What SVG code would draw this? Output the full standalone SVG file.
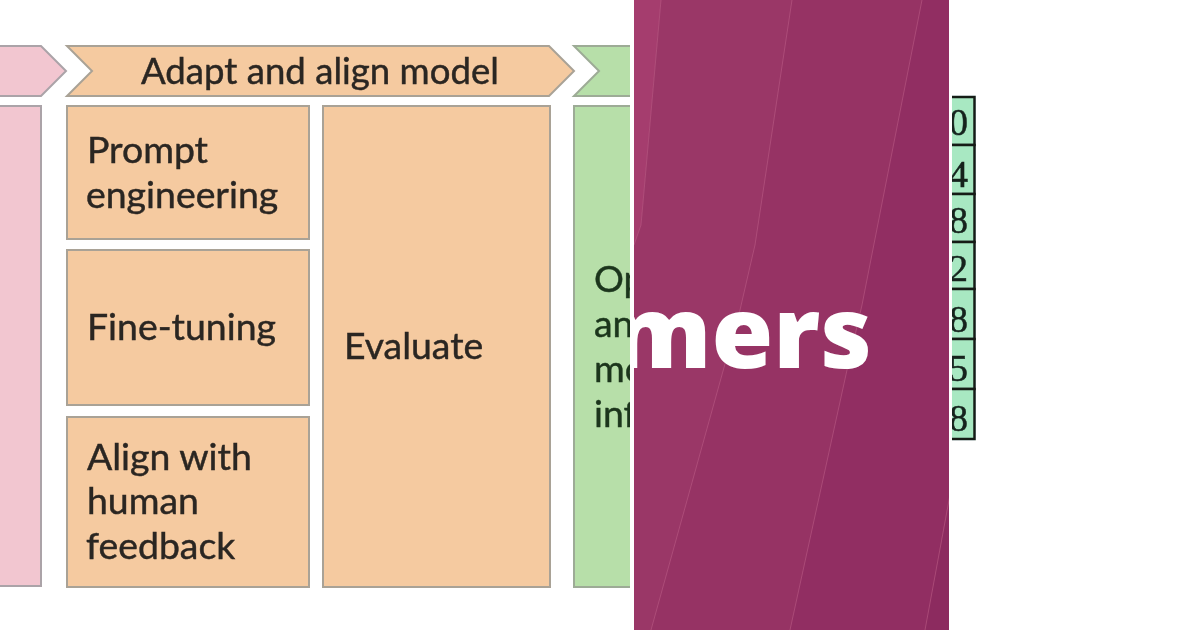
<svg xmlns="http://www.w3.org/2000/svg" width="1200" height="630" viewBox="0 0 1200 630">
<style>
.t{font-family:Lato,"Liberation Sans",sans-serif;font-size:37.4px;fill:#2b2622;stroke:#2b2622;stroke-width:.45}
.g{fill:#1b351c;stroke:#1b351c}
.o{fill:#f5caa0;stroke:#a9a296;stroke-width:2}
.p{fill:#f2c6d0;stroke:#aba3a8;stroke-width:2}
.n{fill:#b7dfa9;stroke:#9dab96;stroke-width:2}
.l{fill:none;stroke:#bd6089;stroke-width:1;stroke-opacity:.55}
.d{font-family:"Liberation Serif",serif;font-size:38px;fill:#14211c;stroke:#14211c;stroke-width:.5}
.c{fill:#a8e8c2;stroke:#161d18;stroke-width:2.5}
</style>
<defs>
<filter id="soft" x="-5%" y="-5%" width="110%" height="110%"><feGaussianBlur stdDeviation="0.6"/></filter>
<clipPath id="left"><rect x="0" y="0" width="630" height="630"/></clipPath>
<clipPath id="right"><rect x="952" y="0" width="248" height="630"/></clipPath>
<clipPath id="panel"><rect x="634" y="0" width="315" height="630"/></clipPath>
</defs>
<rect width="1200" height="630" fill="#ffffff"/>
<g clip-path="url(#left)"><g filter="url(#soft)">
<g id="stage-pink">
<polygon class="p" points="-4,46 41,46 66,71 41,96 -4,96"/>
<rect class="p" x="-4" y="106" width="45" height="480"/>
</g>
<g id="stage-adapt">
<polygon class="o" points="67,46 549,46 574,71 549,96 67,96 92,71"/>
<text class="t" x="141" y="84" style="font-size:36.6px">Adapt and align model</text>
</g>
<g id="node-prompt">
<rect class="o" x="67" y="106" width="242" height="133"/>
<text class="t" x="87" y="163">Prompt</text>
<text class="t" x="86" y="208">engineering</text>
</g>
<g id="node-finetuning">
<rect class="o" x="67" y="250" width="242" height="155"/>
<text class="t" x="87" y="340">Fine-tuning</text>
</g>
<g id="node-align">
<rect class="o" x="67" y="417" width="242" height="170"/>
<text class="t" x="87" y="470">Align with</text>
<text class="t" x="87" y="514">human</text>
<text class="t" x="86" y="559">feedback</text>
</g>
<g id="node-evaluate">
<rect class="o" x="323" y="106" width="227" height="481"/>
<text class="t" x="344" y="359">Evaluate</text>
</g>
<g id="stage-green">
<polygon class="n" points="574,46 640,46 640,96 574,96 599,71"/>
</g>
<g id="node-green">
<rect class="n" x="574" y="106" width="70" height="481"/>
<text class="t g" x="594" y="292">Op</text>
<text class="t g" x="594" y="337">an</text>
<text class="t g" x="594" y="382">mo</text>
<text class="t g" x="594" y="427">inf</text>
</g>
</g></g>
<g id="table" clip-path="url(#right)">
<g filter="url(#soft)">
<rect class="c" x="940" y="97" width="34.500" height="48"/>
<rect class="c" x="940" y="145" width="34.500" height="49"/>
<rect class="c" x="940" y="194" width="34.500" height="48"/>
<rect class="c" x="940" y="242" width="34.500" height="47"/>
<rect class="c" x="940" y="289" width="34.500" height="50"/>
<rect class="c" x="940" y="339" width="34.500" height="50"/>
<rect class="c" x="940" y="389" width="34.500" height="50"/>
<text class="d" x="949" y="135">0</text>
<text class="d" x="949" y="187">4</text>
<text class="d" x="949" y="233">8</text>
<text class="d" x="949" y="281">2</text>
<text class="d" x="949" y="332">8</text>
<text class="d" x="949" y="381">5</text>
<text class="d" x="949" y="431">8</text>
</g>
</g>
<g id="banner" clip-path="url(#panel)">
<rect x="634" y="0" width="315" height="630" fill="#963364"/>
<polygon points="634,0 661,0 641,225 634,245" fill="#a53d6e"/>
<polygon points="661,0 792,0 755,245 740,310 651,630 634,630 634,245 641,225" fill="#9a3767"/>
<polygon points="922,0 949,0 949,495 925,630 790,630 847,370 862,305" fill="#912e62"/>
<polygon points="950,495 949,630 925,630" fill="#8c2b5f"/>
<path class="l" d="M661,0 L641,225 L634,245"/>
<path class="l" d="M792,0 L755,245 L740,310 L651,630"/>
<path class="l" d="M922,0 L862,305 L847,370 L790,630"/>
<path class="l" d="M950,495 L925,630"/>
<text x="872" y="368" text-anchor="end" font-family="'Open Sans','Noto Sans',sans-serif" font-weight="800" font-size="100" fill="#ffffff">mers</text>
</g>
</svg>
